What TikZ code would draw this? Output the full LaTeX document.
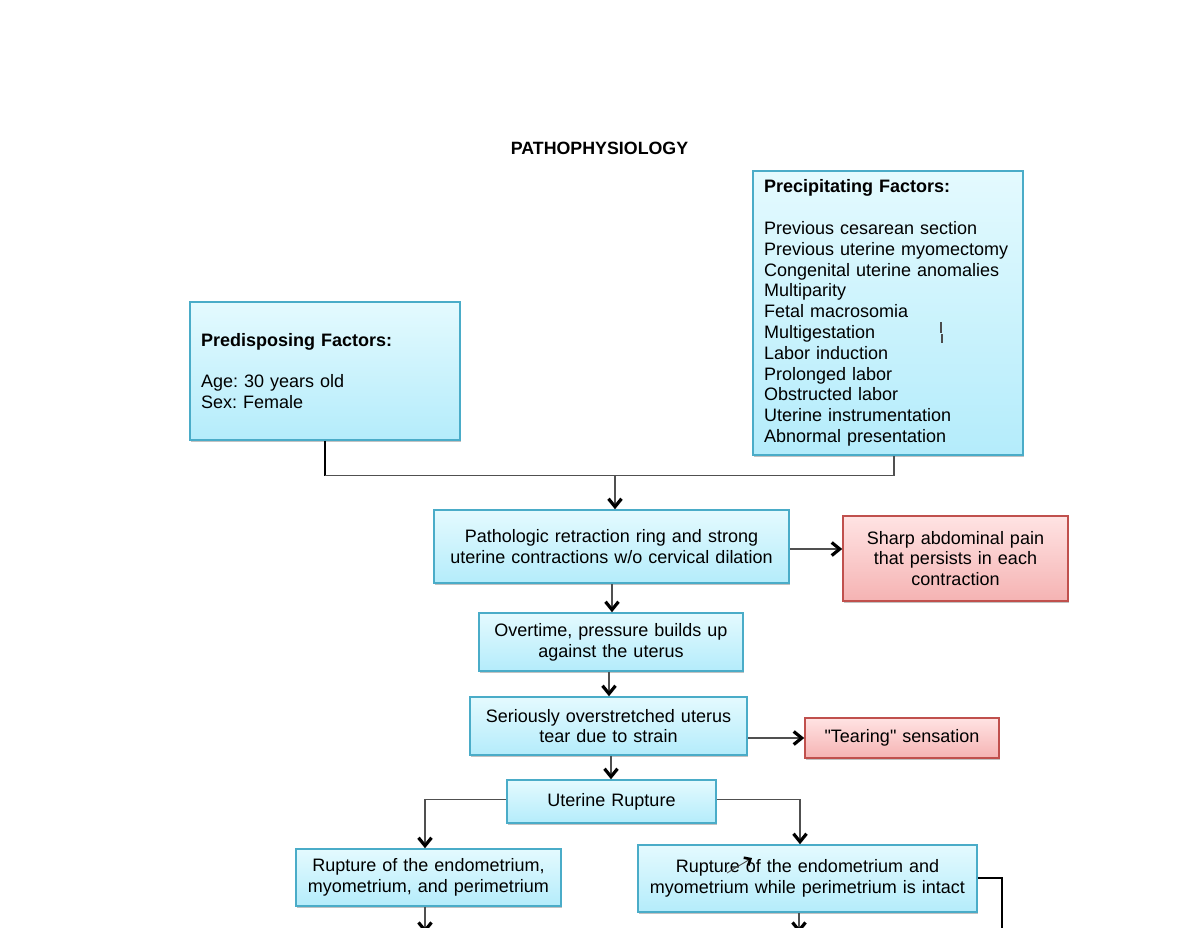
\documentclass[tikz,border=0pt]{standalone}
\usepackage{fontspec}
\setmainfont{Liberation Sans}[Ligatures=TeXOff]
\usetikzlibrary{arrows.meta,shadows}
\definecolor{cyanTop}{HTML}{E4FAFE}
\definecolor{cyanBot}{HTML}{B4ECFB}
\definecolor{cyanBorder}{HTML}{4AACC8}
\definecolor{redTop}{HTML}{FFE3E3}
\definecolor{redBot}{HTML}{F5B3B3}
\definecolor{redBorder}{HTML}{C0504D}
\definecolor{lineGray}{HTML}{505050}
\frenchspacing
\begin{document}
\begin{tikzpicture}[x=1pt,y=-1pt,
  txt/.style={font=\fontsize{18}{20.8}\selectfont},
  boxbase/.style={txt, line width=1.5pt, inner sep=0pt, align=center,
    drop shadow={shadow xshift=1pt,shadow yshift=-2pt,fill=black!40,opacity=0.6}},
  bluebox/.style={boxbase, draw=cyanBorder, top color=cyanTop, bottom color=cyanBot},
  redbox/.style={boxbase, draw=redBorder, top color=redTop, bottom color=redBot},
  listbox/.style={bluebox, align=left, inner xsep=11pt, text width=248pt},
  conn/.style={draw=lineGray, line width=1.2pt},
  arr/.style={conn, -{Straight Barb[length=8pt,width=13pt,line width=3.2pt,color=black]}},
  heavy/.style={draw=black, line width=2pt}
]
\useasboundingbox (0,0) rectangle (1200,927);

\node[font=\bfseries\fontsize{17.8}{20}\selectfont] (title) at (599.5,148) {PATHOPHYSIOLOGY};

\node[listbox, minimum height=138pt] (pre) at (325,371)
  {\textbf{Predisposing Factors:}\\[20.8pt]Age: 30 years old\\Sex: Female};

\node[listbox, minimum height=284pt] (prec) at (888,313)
  {\textbf{Precipitating Factors:}\\[20.8pt]Previous cesarean section\\Previous uterine myomectomy\\Congenital uterine anomalies\\Multiparity\\Fetal macrosomia\\Multigestation\\Labor induction\\Prolonged labor\\Obstructed labor\\Uterine instrumentation\\Abnormal presentation};

\node[bluebox, minimum width=355pt, minimum height=73pt, text width=345pt] (path) at (611.5,546.5)
  {Pathologic retraction ring and strong\\uterine contractions w/o cervical dilation};
\node[redbox, minimum width=225pt, minimum height=85pt, text width=215pt] (pain) at (955.5,558.5)
  {Sharp abdominal pain\\that persists in each\\contraction};
\node[bluebox, minimum width=264pt, minimum height=58pt, text width=254pt] (over) at (611,642)
  {Overtime, pressure builds up\\against the uterus};
\node[bluebox, minimum width=277pt, minimum height=58pt, text width=267pt] (ser) at (608.5,726)
  {Seriously overstretched uterus\\tear due to strain};
\node[redbox, minimum width=194pt, minimum height=40pt, text width=184pt] (tear) at (902,738)
  {"Tearing" sensation};
\node[bluebox, minimum width=209pt, minimum height=43pt, text width=199pt] (rup) at (611.5,801.5)
  {Uterine Rupture};
\node[bluebox, minimum width=265pt, minimum height=57pt, text width=260pt] (left) at (428.5,877.5)
  {Rupture of the endometrium,\\myometrium, and perimetrium};
\node[bluebox, minimum width=339pt, minimum height=67pt, text width=334pt] (right) at (807.5,878.5)
  {Rupture of the endometrium and\\myometrium while perimetrium is intact};

% junction of factors
\coordinate (jl) at (325,475.5);
\coordinate (jr) at (894,475.5);
\coordinate (jm) at (615,475.5);
\draw[heavy, line width=1.8pt] (pre.south -| jl) -- (jl);
\draw[conn] (jl) -- (jr) -- (jr |- prec.south);
\draw[arr] (jm) -- (jm |- path.north);

\coordinate (a1) at (612,0);
\draw[arr] (a1 |- path.south) -- (a1 |- over.north);
\coordinate (a2) at (609,0);
\draw[arr] (a2 |- over.south) -- (a2 |- ser.north);
\coordinate (a3) at (611,0);
\draw[arr] (a3 |- ser.south) -- (a3 |- rup.north);

\draw[arr] (path.east |- 0,549) -- (pain.west |- 0,549);
\draw[arr] (ser.east |- 0,738) -- (tear.west);

\coordinate (bl) at (425,799.5);
\coordinate (br) at (800,799.5);
\draw[arr] (rup.west |- bl) -- (bl) -- (bl |- left.north);
\draw[arr] (rup.east |- br) -- (br) -- (br |- right.north);

\coordinate (el) at (425,933);
\coordinate (er) at (799,933);
\draw[arr] (el |- left.south) -- (el);
\draw[arr] (er |- right.south) -- (er);
\coordinate (side) at (1002,878);
\coordinate (sideend) at (1002,940);
\draw[heavy] (right.east |- side) -- (side) -- (sideend);

% stray marks
\coordinate (t1) at (941,322);
\coordinate (t2) at (941,333);
\coordinate (t3) at (942,334);
\coordinate (t4) at (942,343);
\draw[draw=black!70, line width=1.8pt] (t1) -- (t2);
\draw[draw=black!70, line width=1.8pt] (t3) -- (t4);
\coordinate (s1) at (727,873);
\coordinate (s2) at (752,858);
\draw[draw=black!70, line width=0.9pt, -{Straight Barb[length=5pt,width=9pt,line width=2.6pt,color=black]}] (s1) -- (s2);
\end{tikzpicture}
\end{document}
